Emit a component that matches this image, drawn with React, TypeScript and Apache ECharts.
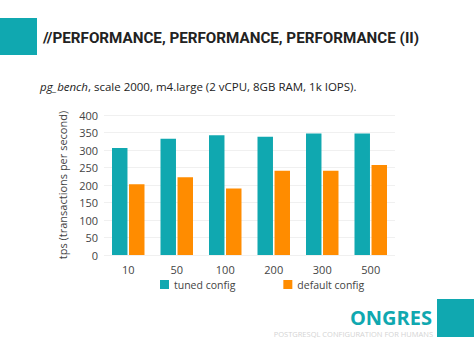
import React, { useEffect, useRef } from "react";
import * as echarts from "echarts";

const categories = ["10", "50", "100", "200", "300", "500"];
const tunedValues = [306, 332, 342, 338, 347, 347];
const defaultValues = [202, 222, 190, 241, 241, 257];
const yTicks = { min: 0, max: 400, interval: 50 };

const TEAL = "#10a8b0";
const ORANGE = "#ff8c00";
const FONT = "'Open Sans', 'Noto Sans', sans-serif";

export default function App() {
  const ref = useRef<HTMLDivElement>(null);
  useEffect(() => {
    if (!ref.current) return;
    const chart = echarts.init(ref.current, undefined, { renderer: "svg" });
    chart.setOption({
      animation: false,
      backgroundColor: "#ffffff",
      textStyle: { fontFamily: FONT },
      grid: { left: 104, right: 79, top: 115, bottom: 100 },
      legend: {
        data: ["tuned config", "default config"],
        top: 274,
        left: 155,
        itemWidth: 9,
        itemHeight: 9,
        itemGap: 48,
        icon: "rect",
        textStyle: { fontSize: 10.5, color: "#444", fontFamily: FONT },
      },
      xAxis: {
        type: "category",
        data: categories,
        axisTick: { show: false },
        axisLine: { show: false },
        axisLabel: { fontSize: 11, color: "#444", margin: 9 },
      },
      yAxis: {
        type: "value",
        min: yTicks.min,
        max: yTicks.max,
        interval: yTicks.interval,
        name: "tps (transactions per second)",
        nameLocation: "middle",
        nameGap: 29,
        nameTextStyle: { fontSize: 11, color: "#444" },
        axisLabel: { fontSize: 11, color: "#444", margin: 6 },
        splitLine: { lineStyle: { color: "#f0f0f0" } },
      },
      series: [
        {
          name: "tuned config",
          type: "bar",
          data: tunedValues,
          itemStyle: { color: TEAL },
          barGap: "10%",
          barCategoryGap: "33%",
        },
        {
          name: "default config",
          type: "bar",
          data: defaultValues,
          itemStyle: { color: ORANGE },
        },
      ],
      graphic: [
        { type: "rect", shape: { x: 0, y: 18, width: 37, height: 37 }, style: { fill: TEAL } },
        {
          type: "text",
          x: 43,
          y: 38,
          style: {
            text: "//PERFORMANCE, PERFORMANCE, PERFORMANCE (II)",
            fontFamily: "Roboto, 'Open Sans', sans-serif",
            fontWeight: "bold",
            fontSize: 15.2,
            fill: "#222",
            verticalAlign: "middle",
          },
        },
        {
          type: "text",
          x: 40,
          y: 86,
          style: {
            text: "{i|pg_bench}, scale 2000, m4.large (2 vCPU, 8GB RAM, 1k IOPS).",
            fontFamily: FONT,
            fontSize: 11.5,
            fill: "#222",
            verticalAlign: "middle",
            rich: { i: { fontStyle: "italic", fontFamily: FONT, fontSize: 11.5, fill: "#222" } },
          },
        },
        { type: "rect", shape: { x: 437, y: 299, width: 37, height: 38 }, style: { fill: TEAL } },
        {
          type: "text",
          x: 432,
          y: 317,
          style: {
            text: "ONGRES",
            fontFamily: FONT,
            fontWeight: "bold",
            fontSize: 20,
            fill: TEAL,
            align: "right",
            verticalAlign: "middle",
          },
        },
        {
          type: "text",
          x: 433,
          y: 334,
          style: {
            text: "POSTGRESQL CONFIGURATION FOR HUMANS",
            fontFamily: FONT,
            fontSize: 7.5,
            fill: "#d4d4d4",
            align: "right",
            verticalAlign: "middle",
          },
        },
      ],
    });
    return () => chart.dispose();
  }, []);
  return <div ref={ref} style={{ width: 474, height: 355, position: "absolute", left: 0, top: 0 }} />;
}
